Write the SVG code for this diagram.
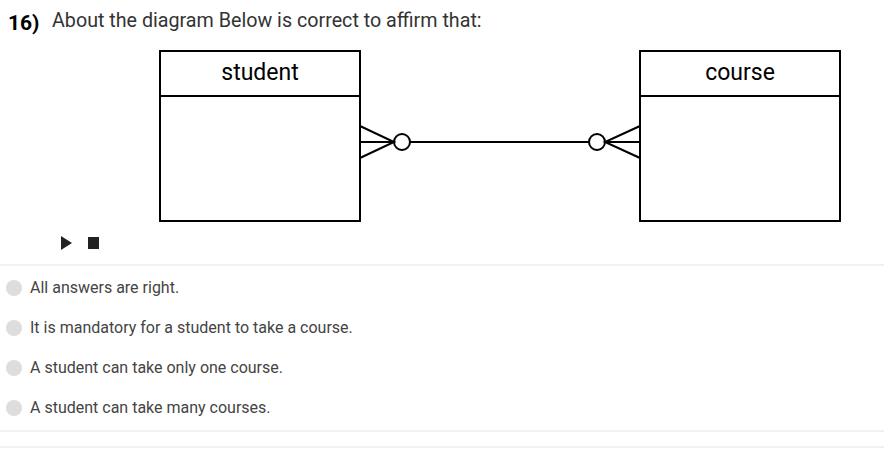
<svg xmlns="http://www.w3.org/2000/svg" width="884" height="451" viewBox="0 0 884 451">
<style>
.box{fill:#fff;stroke:#000;stroke-width:2}
.ln{stroke:#000;stroke-width:2;fill:none}
.t{font-family:Roboto,"Liberation Sans",sans-serif;fill:#000}
.opt{font-family:Roboto,"Liberation Sans",sans-serif;font-size:16px;fill:#444}
.rad{fill:#ddd}
.sep{stroke:#eee;stroke-width:1.5}
</style>
<rect width="884" height="451" fill="#fff"/>
<text x="8" y="30" class="t" font-size="21" font-weight="bold" fill="#333">16)</text>
<text x="52" y="27" class="t" font-size="19.7" style="fill:#333">About the diagram Below is correct to affirm that:</text>
<g id="student">
<rect class="box" x="160" y="51" width="200" height="170"/>
<line class="ln" x1="160" y1="96" x2="360" y2="96"/>
<text x="260" y="80" class="t" font-size="23" text-anchor="middle">student</text>
</g>
<g id="course">
<rect class="box" x="640" y="51" width="200" height="170"/>
<line class="ln" x1="640" y1="96" x2="840" y2="96"/>
<text x="740" y="80" class="t" font-size="23" text-anchor="middle">course</text>
</g>
<g id="connectors">
<path class="ln" d="M360 126L394 142L360 158M360 142H394M410 142H589M605 142H640M640 126L605 142L640 158"/>
<circle class="ln" cx="402" cy="142" r="8"/>
<circle class="ln" cx="597" cy="142" r="8"/>
</g>
<path d="M61 236L72 243L61 250Z" fill="#222"/>
<rect x="88" y="237" width="11" height="12" fill="#222"/>
<line class="sep" x1="0" y1="265" x2="884" y2="265"/>
<circle class="rad" cx="14" cy="288" r="8"/><text class="opt" x="30" y="293">All answers are right.</text>
<circle class="rad" cx="14" cy="328" r="8"/><text class="opt" x="30" y="333">It is mandatory for a student to take a course.</text>
<circle class="rad" cx="14" cy="368" r="8"/><text class="opt" x="30" y="373">A student can take only one course.</text>
<circle class="rad" cx="14" cy="408" r="8"/><text class="opt" x="30" y="413">A student can take many courses.</text>
<line class="sep" x1="0" y1="431" x2="884" y2="431"/>
<line class="sep" x1="0" y1="447" x2="884" y2="447"/>
</svg>
